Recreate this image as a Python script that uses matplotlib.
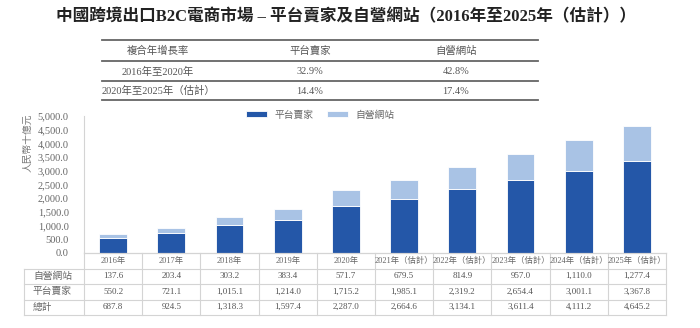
import matplotlib
matplotlib.use("Agg")
import matplotlib.pyplot as plt
from matplotlib.lines import Line2D

FONT = ['Liberation Serif', 'Noto Sans CJK TC', 'DejaVu Sans']
plt.rcParams['font.family'] = FONT

# ---- data ----
years = ['2016年', '2017年', '2018年', '2019年', '2020年',
         '2021年（估計）', '2022年（估計）', '2023年（估計）', '2024年（估計）', '2025年（估計）']
platform = [550.2, 721.1, 1015.1, 1214.0, 1715.2, 1985.1, 2319.2, 2654.4, 3001.1, 3367.8]
selfsite = [137.6, 203.4, 303.2, 383.4, 571.7, 679.5, 814.9, 957.0, 1110.0, 1277.4]
totals = [687.8, 924.5, 1318.3, 1597.4, 2287.0, 2664.6, 3134.1, 3611.4, 4111.2, 4645.2]
series_names = ['平台賣家', '自營網站']
row_labels = ['自營網站', '平台賣家', '總計']
cagr_header = ['複合年增長率', '平台賣家', '自營網站']
cagr_periods = ['2016年至2020年', '2020年至2025年（估計）']
cagr_platform = ['32.9%', '14.4%']
cagr_self = ['42.8%', '17.4%']
title = '中國跨境出口B2C電商市場 – 平台賣家及自營網站（2016年至2025年（估計））'
ylabel = '人民幣十億元'
yticks = list(range(0, 5001, 500))

DARK = '#2457A8'
LIGHT = '#A9C3E5'
GRID = '#d4d4d4'
TXT = '#555555'

W, H = 700, 328
fig = plt.figure(figsize=(W / 100, H / 100), dpi=100)

def fx(px):
    return px / W

def fy(py):
    return 1 - py / H

# ---- title ----
fig.text(fx(346), fy(17), title, ha='center', va='center', fontsize=12,
         fontweight='bold', color='#222222')

# ---- CAGR table ----
for yy in [40, 61, 81, 100]:
    fig.add_artist(Line2D([fx(102), fx(538)], [fy(yy), fy(yy)], color='#666666',
                          lw=1.3, transform=fig.transFigure))
col_x = [158, 310, 456]
for cx, txt in zip(col_x, cagr_header):
    fig.text(fx(cx), fy(51), txt, ha='center', va='center', fontsize=7.5, color=TXT)
for r, yy in enumerate([72, 91]):
    for cx, txt in zip(col_x, [cagr_periods[r], cagr_platform[r], cagr_self[r]]):
        fig.text(fx(cx), fy(yy), txt, ha='center', va='center', fontsize=7.5, color=TXT)

# ---- main chart ----
ax = fig.add_axes([fx(84), fy(253), fx(666) - fx(84), fy(116) - fy(253)])
x = list(range(len(years)))
b1 = ax.bar(x, platform, width=0.48, color=DARK, edgecolor='white', linewidth=0.6,
            label=series_names[0])
b2 = ax.bar(x, selfsite, width=0.48, bottom=platform, color=LIGHT, edgecolor='white',
            linewidth=0.6, label=series_names[1])
ax.set_xlim(-0.5, len(years) - 0.5)
ax.set_ylim(0, 5000)
ax.set_yticks(yticks)
ax.set_yticklabels([f'{v:,.1f}' for v in yticks])
ax.tick_params(axis='y', length=0, pad=11, labelsize=7.5, labelcolor='#666666')
ax.tick_params(axis='x', length=0, labelbottom=False)
for s in ['top', 'right']:
    ax.spines[s].set_visible(False)
ax.spines['left'].set_color(GRID)
ax.spines['bottom'].set_color(GRID)
ax.spines['left'].set_linewidth(0.8)
ax.spines['bottom'].set_linewidth(0.8)

fig.text(fx(28), fy(143), ylabel, rotation=90, ha='center', va='center',
         fontsize=7, color='#777777')

leg = ax.legend(handles=[b1, b2], loc='center', ncol=2, frameon=False,
                bbox_to_anchor=(fx(320), fy(115)), bbox_transform=fig.transFigure,
                fontsize=7, handlelength=2.2, handleheight=0.55, handletextpad=0.7,
                columnspacing=1.4, labelcolor='#666666')

# ---- data table ----
unit = (666 - 84) / len(years)
xmin = -0.5 - 60 / unit
tax = fig.add_axes([fx(24), fy(315), fx(666) - fx(24), fy(253) - fy(315)])
tax.set_xlim(xmin, len(years) - 0.5)
tax.set_ylim(4, 0)
tax.axis('off')
xmax = len(years) - 0.5
kw = dict(color=GRID, lw=0.8, clip_on=False)
tax.plot([-0.5, xmax], [0, 0], **kw)
for r in range(1, 5):
    tax.plot([xmin, xmax], [r, r], **kw)
for k in range(len(years) + 1):
    tax.plot([-0.5 + k, -0.5 + k], [0, 4], **kw)
tax.plot([xmin, xmin], [1, 4], **kw)

for i, yr in enumerate(years):
    tax.text(i, 0.5, yr, ha='center', va='center', fontsize=6, color='#666666')
rows = [selfsite, platform, totals]
for r, (lab, vals) in enumerate(zip(row_labels, rows)):
    tax.text(xmin + 9 / unit, r + 1.5, lab, ha='left', va='center', fontsize=7,
             color='#666666')
    for i, v in enumerate(vals):
        tax.text(i, r + 1.5, f'{v:,.1f}', ha='center', va='center', fontsize=6.5,
                 color='#555555')

fig.savefig('out.png', dpi=100)
